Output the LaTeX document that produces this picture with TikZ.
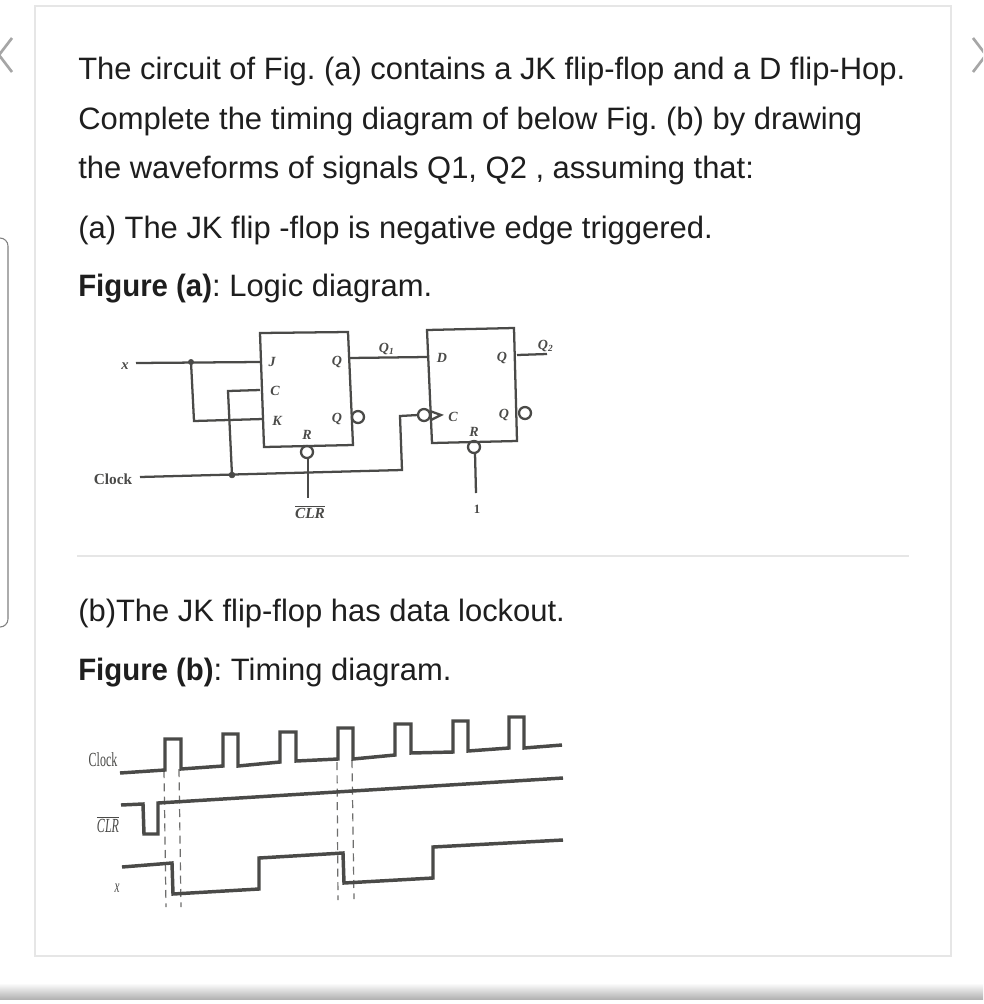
\documentclass[tikz,border=0pt]{standalone}
\usepackage{fontspec}
\setmainfont{Liberation Sans}[BoldFeatures={FakeStretch=0.95}]
\newfontfamily\scanfont{Liberation Serif}
\usetikzlibrary{calc}
\definecolor{inkgray}{HTML}{4A4A48}
\definecolor{framegray}{HTML}{E6E6E6}
\definecolor{textgray}{HTML}{1E1E1E}
\tikzset{
    para/.style={anchor=base west, inner sep=0pt, text=textgray, font=\fontsize{23.2pt}{28pt}\selectfont\frenchspacing},
    pin/.style={inner sep=0pt, text=inkgray, font=\scanfont\itshape\bfseries\fontsize{10.5pt}{11pt}\selectfont},
    wire/.style={draw=inkgray, line width=1.7pt},
    trace/.style={draw=inkgray, line width=2.6pt},
    guide/.style={draw=inkgray!80, line width=0.9pt, dashed, dash pattern=on 6pt off 4pt},
    tall/.style={inner sep=0pt, text=inkgray, font=\scanfont\fontsize{15pt}{16pt}\selectfont, xscale=0.6},
}

\begin{document}
\begin{tikzpicture}[x=0.75pt, y=-0.75pt]
        \clip (0,0) rectangle (983,1004);
        \fill[white] (0,0) rectangle (983,1004);

        % page around the card
        \draw[framegray, line width=1.5pt] (35,6) rectangle (951,956);
        \draw[gray!70, line width=2pt] (12,38) -- (-1,55) -- (12,72);
        \draw[gray!70, line width=2pt] (973,38) -- (986,55) -- (973,72);
        \draw[gray, line width=0.8pt, rounded corners=6pt] (-10,238) -- (8,238) -- (8,627) -- (-10,627);
        \shade[top color=white, bottom color=gray!60] (0,983) rectangle (983,999);
        \draw[framegray, line width=0.8pt] (77,556) -- (909,556);

        % text
        \node[para] (line1) at (78,79) {The circuit of Fig. (a) contains a JK flip-flop and a D flip-Hop.};
        \node[para] (line2) at (78,129) {Complete the timing diagram of below Fig. (b) by drawing};
        \node[para] (line3) at (78,178) {the waveforms of signals Q1, Q2 , assuming that:};
        \node[para] (parta) at (78,238) {(a) The JK flip -flop is negative edge triggered.};
        \node[para] (capa) at (78,296) {\textbf{Figure (a)}: Logic diagram.};
        \node[para] (partb) at (78,621) {(b)The JK flip-flop has data lockout.};
        \node[para] (capb) at (78,680) {\textbf{Figure (b)}: Timing diagram.};

        % Figure (a)
        \coordinate (jkNW) at (260,333);
        \coordinate (jkNE) at (348,332);
        \coordinate (jkSE) at (353,445);
        \coordinate (jkSW) at (264,447);
        \coordinate (dNW) at (427,330);
        \coordinate (dNE) at (514,328);
        \coordinate (dSE) at (517,441);
        \coordinate (dSW) at (432,443);
        \draw[wire] (jkNW) -- (jkNE) -- (jkSE) -- (jkSW) -- cycle;
        \draw[wire] (dNW) -- (dNE) -- (dSE) -- (dSW) -- cycle;

        \node[pin, font=\scanfont\fontsize{11pt}{11pt}\selectfont\itshape\bfseries] (xin) at (125,366) {x};
        \node[pin, font=\scanfont\bfseries\fontsize{11.5pt}{12pt}\selectfont] (clkin) at (113,479) {Clock};
        \node[pin, font=\scanfont\itshape\bfseries\fontsize{11.5pt}{12pt}\selectfont] (clrin) at (310,512) {$\overline{\mbox{CLR}}$};
        \node[pin, font=\scanfont\bfseries\fontsize{9.5pt}{10pt}\selectfont] (onein) at (477,509) {1};
        \node[pin] (pinJ) at (272,362) {J};
        \node[pin] (pinC) at (275,391) {C};
        \node[pin] (pinK) at (277,421) {K};
        \node[pin] (pinQa) at (337,362) {Q};
        \node[pin] (pinQb) at (337,419) {Q};
        \node[pin] (pinR) at (307,435) {R};
        \node[pin] (pinD) at (442,358) {D};
        \node[pin] (pinQc) at (502,358) {Q};
        \node[pin] (pinCd) at (453,417) {C};
        \node[pin] (pinQd) at (504,415) {Q};
        \node[pin] (pinRd) at (474,432) {R};
        \node[pin] (labQ1) at (384,349) {Q\rlap{\raisebox{-1.5pt}{\scriptsize 1}}};
        \node[pin] (labQ2) at (543,346) {Q\rlap{\raisebox{-1.5pt}{\scriptsize 2}}};

        \coordinate (xstart) at (136,363);
        \coordinate (xdot) at (191,362);
        \coordinate (jin) at (260,362);
        \coordinate (kin) at (263,419);
        \coordinate (cin) at (260,390);
        \coordinate (clkstart) at (140,477);
        \coordinate (clkdot) at (232,475);
        \coordinate (clkturn) at (402,470);
        \coordinate (bubC) at (424,415);

        \draw[wire] (xstart) -- (jin);
        \draw[wire] (xdot) -- (194,421) -- (kin);
        \draw[wire] (cin) -- (228,391) -- (clkdot);
        \draw[wire] (clkstart) -- (clkturn) -- (400,416) -- (418,415);
        \filldraw[inkgray] (xdot) circle (2pt);
        \filldraw[inkgray] (clkdot) circle (2.2pt);

        \draw[wire] (349,358) -- (427,357);
        \draw[wire] (517,355) -- (547,354);
        \draw[wire] (bubC) circle (4.5pt);
        \draw[wire] (430,411) -- (441,415) -- (431,420);
        \draw[wire] (358,417) circle (4.5pt);
        \draw[wire] (525,413) circle (4.5pt);
        \draw[wire] (307,452) circle (4.5pt);
        \draw[wire] (474,447) circle (4.5pt);
        \draw[wire] (308,458) -- (308,498);
        \draw[wire] (475,453) -- (476,493);

        % Figure (b)
        \node[tall] (clkname) at (103,760) {Clock};
        \node[tall] (clrname) at (108,825) {$\overline{\mbox{\itshape CLR}}$};
        \node[tall, font=\scanfont\itshape\fontsize{14pt}{15pt}\selectfont] (xname) at (117,888) {x};

        \draw[guide] (164,770) -- (166,907);
        \draw[guide] (179,769) -- (181,907);
        \draw[guide] (337,762) -- (338,900);
        \draw[guide] (352,760) -- (354,899);

        \draw[trace] (120,773) -- (165,770) -- (165,739) -- (181,739) -- (181,769)
            -- (223,766) -- (223,734) -- (238,734) -- (238,766)
            -- (280,762) -- (280,732) -- (296,732) -- (296,761)
            -- (338,759) -- (338,728) -- (353,728) -- (353,759)
            -- (395,755) -- (395,724) -- (411,724) -- (411,753)
            -- (453,752) -- (453,721) -- (468,721) -- (468,751)
            -- (509,748) -- (509,717) -- (524,717) -- (524,748) -- (562,745);
        \draw[trace] (121,805) -- (143,804) -- (144,834) -- (158,834) -- (158,803) -- (563,778);
        \draw[trace] (122,867) -- (172,863) -- (173,894) -- (259,889) -- (259,858)
            -- (343,853) -- (344,883) -- (433,878) -- (433,847) -- (563,840);
    \end{tikzpicture}
\end{document}
